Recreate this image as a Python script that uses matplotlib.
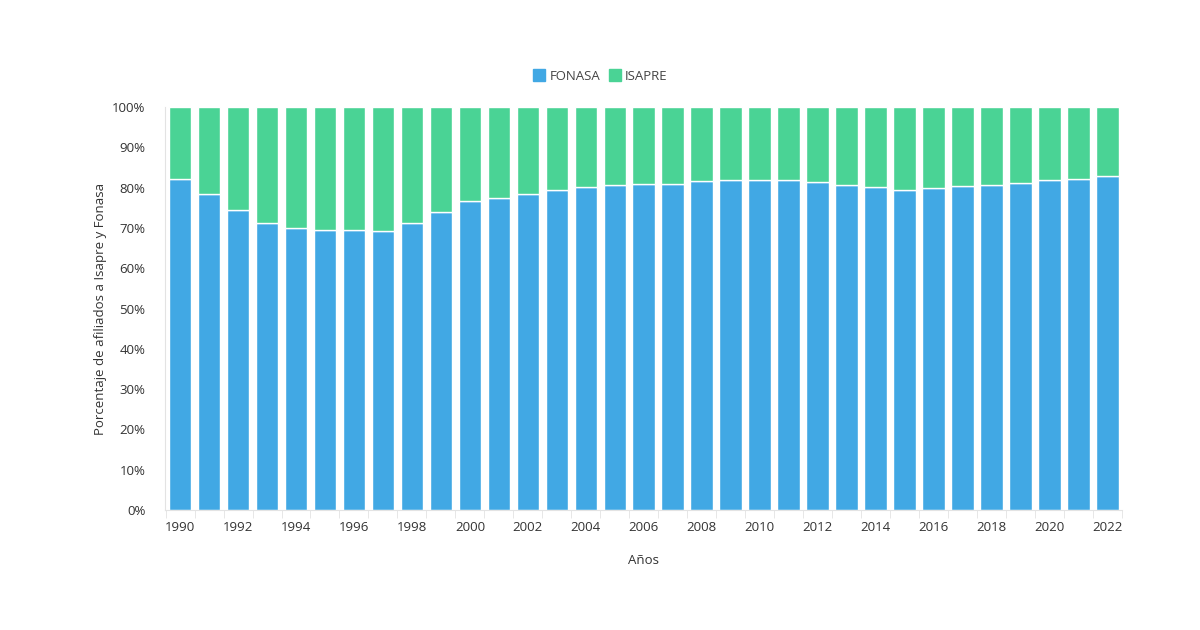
import matplotlib.pyplot as plt
from matplotlib.lines import Line2D
from matplotlib.ticker import FuncFormatter

plt.rcParams['font.family'] = ['Open Sans', 'DejaVu Sans']

years = list(range(1990, 2023))
fonasa = [82.1, 78.4, 74.4, 71.2, 70.0, 69.5, 69.5, 69.2, 71.2, 73.9,
          76.7, 77.4, 78.4, 79.4, 80.1, 80.6, 80.9, 80.9, 81.6, 81.8,
          81.8, 82.0, 81.4, 80.7, 80.2, 79.5, 79.8, 80.4, 80.6, 81.2,
          82.0, 82.1, 83.0]
isapre = [100 - v for v in fonasa]

blue = "#41a8e4"
green = "#4ad395"
grey = "#e3e3e3"

fig = plt.figure(figsize=(12, 6.3), dpi=100)
ax = fig.add_axes([0.1375, 0.1905, 0.7975, 0.6395])

x = list(range(len(years)))
ax.bar(x, fonasa, width=0.78, color=blue, edgecolor="white", linewidth=1)
ax.bar(x, isapre, bottom=fonasa, width=0.78, color=green,
       edgecolor="white", linewidth=1)

ax.set_xlim(-0.52, len(years) - 0.52)
ax.set_ylim(0, 100)
ax.set_yticks(range(0, 101, 10))
ax.yaxis.set_major_formatter(FuncFormatter(lambda v, p: f"{v:.0f}%"))
ax.set_xticks(x[::2])
ax.set_xticklabels([str(y) for y in years[::2]])
ax.set_xticks([i - 0.5 for i in range(len(years) + 1)], minor=True)
ax.tick_params(axis="x", which="major", length=0, pad=8, labelsize=9.5,
               labelcolor="#333333")
ax.tick_params(axis="x", which="minor", length=6, color=grey)
ax.tick_params(axis="y", length=0, pad=14, labelsize=9.5, labelcolor="#333333")

for s in ["top", "right"]:
    ax.spines[s].set_visible(False)
ax.spines["left"].set_color(grey)
ax.spines["bottom"].set_color(grey)

ax.set_xlabel("Años", fontsize=9.5, color="#333333", labelpad=14)
ax.set_ylabel("Porcentaje de afiliados a Isapre y Fonasa", fontsize=9.5,
              color="#333333", labelpad=4)

handles = [Line2D([], [], marker="s", linestyle="", markersize=8,
                  markerfacecolor=c, markeredgecolor=c) for c in (blue, green)]
fig.legend(handles, ["FONASA", "ISAPRE"], loc="center",
           bbox_to_anchor=(0.5, 0.879), ncol=2, frameon=False,
           fontsize=9.5, handletextpad=0.25, columnspacing=0.6,
           handlelength=1.0, labelcolor="#444444")

fig.savefig("out.png", dpi=100, facecolor="white")
